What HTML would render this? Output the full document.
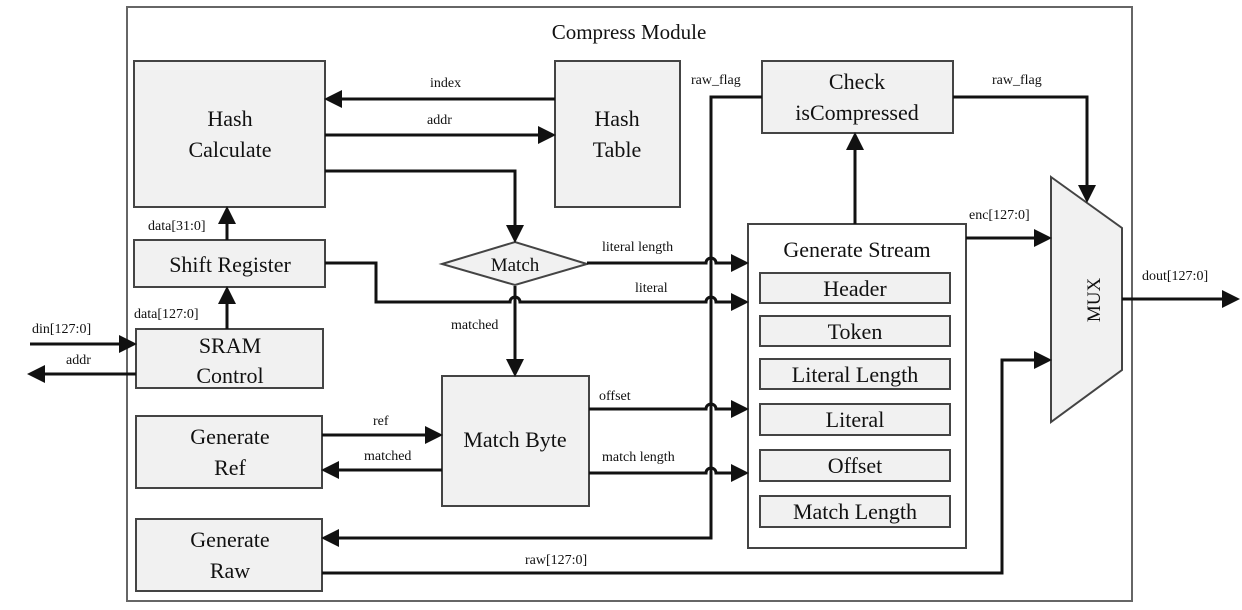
<!DOCTYPE html>
<html><head><meta charset="utf-8"><style>
html,body{margin:0;padding:0;background:#fff;}
svg text{font-family:"Liberation Serif",serif;fill:#111;}
.b{fill:#f1f1f1;stroke:#444;stroke-width:2;}
.w{fill:none;stroke:#111;stroke-width:3;}
.l{font-size:14px;}
.t{font-size:22px;text-anchor:middle;}
</style></head><body>
<svg width="1242" height="605" viewBox="0 0 1242 605" xmlns="http://www.w3.org/2000/svg">
<defs><marker id="a" markerWidth="6" markerHeight="6" refX="5" refY="3" orient="auto" markerUnits="strokeWidth"><path d="M0,0 L6,3 L0,6 Z" fill="#111"/></marker></defs>
<rect x="127" y="7" width="1005" height="594" fill="#fff" stroke="#666" stroke-width="2"/>
<text x="629" y="39" class="t" style="font-size:21px">Compress Module</text>

<rect class="b" x="134" y="61" width="191" height="146"/>
<text class="t" x="230" y="126">Hash</text><text class="t" x="230" y="157">Calculate</text>
<rect class="b" x="555" y="61" width="125" height="146"/>
<text class="t" x="617" y="126">Hash</text><text class="t" x="617" y="157">Table</text>
<rect class="b" x="134" y="240" width="191" height="47"/>
<text class="t" x="230" y="272">Shift Register</text>
<rect class="b" x="136" y="329" width="187" height="59"/>
<text class="t" x="230" y="353">SRAM</text><text class="t" x="230" y="383">Control</text>
<rect class="b" x="136" y="416" width="186" height="72"/>
<text class="t" x="230" y="444">Generate</text><text class="t" x="230" y="475">Ref</text>
<rect class="b" x="442" y="376" width="147" height="130"/>
<text class="t" x="515" y="447">Match Byte</text>
<rect class="b" x="136" y="519" width="186" height="72"/>
<text class="t" x="230" y="547">Generate</text><text class="t" x="230" y="578">Raw</text>
<polygon class="b" points="442,264 515,242 587,264 515,285"/>
<text class="t" x="515" y="271" style="font-size:19px">Match</text>
<rect class="b" x="762" y="61" width="191" height="72"/>
<text class="t" x="857" y="89">Check</text><text class="t" x="857" y="120">isCompressed</text>
<rect x="748" y="224" width="218" height="324" fill="#fff" stroke="#444" stroke-width="2"/>
<text class="t" x="857" y="257">Generate Stream</text>
<rect class="b" x="760" y="273" width="190" height="30"/><text class="t" x="855" y="296">Header</text>
<rect class="b" x="760" y="316" width="190" height="30"/><text class="t" x="855" y="339">Token</text>
<rect class="b" x="760" y="359" width="190" height="30"/><text class="t" x="855" y="382">Literal Length</text>
<rect class="b" x="760" y="404" width="190" height="31"/><text class="t" x="855" y="427">Literal</text>
<rect class="b" x="760" y="450" width="190" height="31"/><text class="t" x="855" y="473">Offset</text>
<rect class="b" x="760" y="496" width="190" height="31"/><text class="t" x="855" y="519">Match Length</text>
<polygon class="b" points="1051,177 1122,228 1122,370 1051,422"/>
<text class="t" transform="translate(1093,300) rotate(-90)" y="7" style="font-size:19px">MUX</text>

<path class="w" d="M555,99 H327" marker-end="url(#a)"/>
<path class="w" d="M325,135 H553" marker-end="url(#a)"/>
<path class="w" d="M325,171 H515 V240" marker-end="url(#a)"/>
<path class="w" d="M227,240 V209" marker-end="url(#a)"/>
<path class="w" d="M227,329 V289" marker-end="url(#a)"/>
<path class="w" d="M30,344 H134" marker-end="url(#a)"/>
<path class="w" d="M136,374 H30" marker-end="url(#a)"/>
<path class="w" d="M322,435 H440" marker-end="url(#a)"/>
<path class="w" d="M442,470 H324" marker-end="url(#a)"/>
<path class="w" d="M515,286 V374" marker-end="url(#a)"/>
<path class="w" d="M587,263 H706 a5,5 0 0 1 10,0 H746" marker-end="url(#a)"/>
<path class="w" d="M325,263 H376 V302 H510 a5,5 0 0 1 10,0 H706 a5,5 0 0 1 10,0 H746" marker-end="url(#a)"/>
<path class="w" d="M589,409 H706 a5,5 0 0 1 10,0 H746" marker-end="url(#a)"/>
<path class="w" d="M589,473 H706 a5,5 0 0 1 10,0 H746" marker-end="url(#a)"/>
<path class="w" d="M762,97 H711 V538 H324" marker-end="url(#a)"/>
<path class="w" d="M953,97 H1087 V200" marker-end="url(#a)"/>
<path class="w" d="M855,224 V135" marker-end="url(#a)"/>
<path class="w" d="M966,238 H1049" marker-end="url(#a)"/>
<path class="w" d="M322,573 H1002 V360 H1049" marker-end="url(#a)"/>
<path class="w" d="M1122,299 H1237" marker-end="url(#a)"/>

<text class="l" x="430" y="87">index</text>
<text class="l" x="427" y="124">addr</text>
<text class="l" x="148" y="230">data[31:0]</text>
<text class="l" x="134" y="318">data[127:0]</text>
<text class="l" x="32" y="333">din[127:0]</text>
<text class="l" x="66" y="364">addr</text>
<text class="l" x="373" y="425">ref</text>
<text class="l" x="364" y="460">matched</text>
<text class="l" x="451" y="329">matched</text>
<text class="l" x="602" y="251">literal length</text>
<text class="l" x="635" y="292">literal</text>
<text class="l" x="599" y="400">offset</text>
<text class="l" x="602" y="461">match length</text>
<text class="l" x="525" y="564">raw[127:0]</text>
<text class="l" x="691" y="84">raw_flag</text>
<text class="l" x="992" y="84">raw_flag</text>
<text class="l" x="969" y="219">enc[127:0]</text>
<text class="l" x="1142" y="280">dout[127:0]</text>
</svg>
</body></html>
